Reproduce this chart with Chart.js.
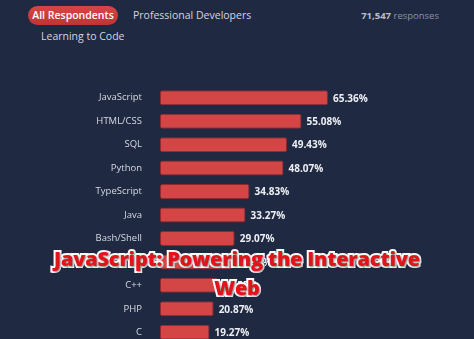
<!DOCTYPE html>
<html>
<head>
<meta charset="utf-8">
<script src="https://cdn.jsdelivr.net/npm/chart.js@4"></script>
<style>
  html, body { margin: 0; padding: 0; background: #1f2941; overflow: hidden; }
  body { width: 474px; height: 339px; position: relative; font-family: "Open Sans", sans-serif; }
  #wrap { position: absolute; left: 0; top: 0; width: 474px; height: 360px; }
  .tab { position: absolute; font-size: 10.5px; color: #d3d7e0; white-space: nowrap; }
  .pill { left: 28px; top: 6px; width: 90px; height: 19px; line-height: 19px; text-align: center;
          background: linear-gradient(#d64545, #bf3434); border-radius: 10px; color: #fff; font-weight: 600; }
  #resp { position: absolute; right: 35px; top: 9px; font-size: 9.5px; color: #8b93a6; }
  #resp b { color: #b9c0cd; }
  #headline { position: absolute; left: 0; width: 474px; top: 244px; text-align: center;
              font-family: "Open Sans", sans-serif; font-weight: 800; font-size: 20px; line-height: 29px;
              color: #e3131c; -webkit-text-stroke: 4px #fff; paint-order: stroke fill;
              text-shadow: 1px 1px 2px rgba(0,0,0,0.5); letter-spacing: -0.2px; }
</style>
</head>
<body>
<div class="tab pill">All Respondents</div>
<div class="tab" style="left:133px; top:8px;">Professional Developers</div>
<div class="tab" style="left:41px; top:29px;">Learning to Code</div>
<div id="resp"><b>71,547</b> responses</div>
<div id="wrap"><canvas id="chart"></canvas></div>
<div id="headline">JavaScript: Powering the Interactive<br>Web</div>
<script>
const languages = ["JavaScript", "HTML/CSS", "SQL", "Python", "TypeScript", "Java", "Bash/Shell", "C#", "C++", "PHP", "C"];
const shares = [65.36, 55.08, 49.43, 48.07, 34.83, 33.27, 29.07, 27.98, 22.55, 20.87, 19.27];

// percentage written just past the end of each bar
const valueLabels = {
  id: "valueLabels",
  afterDatasetsDraw(chart) {
    const ctx = chart.ctx;
    const meta = chart.getDatasetMeta(0);
    ctx.save();
    ctx.font = "bold 10px 'Open Sans', sans-serif";
    ctx.fillStyle = "#eef0f5";
    ctx.textBaseline = "middle";
    meta.data.forEach((bar, i) => {
      ctx.fillText(shares[i].toFixed(2) + "%", bar.x + 5, bar.y + 1);
    });
    ctx.restore();
  }
};

const ctx = document.getElementById("chart").getContext("2d");
new Chart(ctx, {
  type: "bar",
  data: {
    labels: languages,
    datasets: [{
      data: shares,
      backgroundColor(c) {
        const area = c.chart.chartArea;
        const el = c.element;
        if (!area || !el || el.y === undefined) return "#d44545";
        const h = el.height || 15;
        const g = c.chart.ctx.createLinearGradient(0, el.y - h / 2, 0, el.y + h / 2);
        g.addColorStop(0, "#e35656");
        g.addColorStop(1, "#c23a3a");
        return g;
      },
      borderColor: "#8f2b2e",
      borderWidth: 1,
      borderRadius: 2,
      borderSkipped: false,
      barPercentage: 0.64,
      categoryPercentage: 1
    }]
  },
  options: {
    indexAxis: "y",
    responsive: true,
    maintainAspectRatio: false,
    animation: false,
    layout: { padding: { top: 86, bottom: 16, right: 57, left: 0 } },
    plugins: { legend: { display: false }, tooltip: { enabled: false } },
    scales: {
      x: { min: 0, max: 100, display: false },
      y: {
        grid: { display: false },
        border: { display: false },
        ticks: { color: "#d6dae3", font: { size: 9.5, family: "'Open Sans', sans-serif" }, padding: 10 },
        afterFit(axis) { axis.width = 160; }
      }
    }
  },
  plugins: [valueLabels]
});
</script>
</body>
</html>
